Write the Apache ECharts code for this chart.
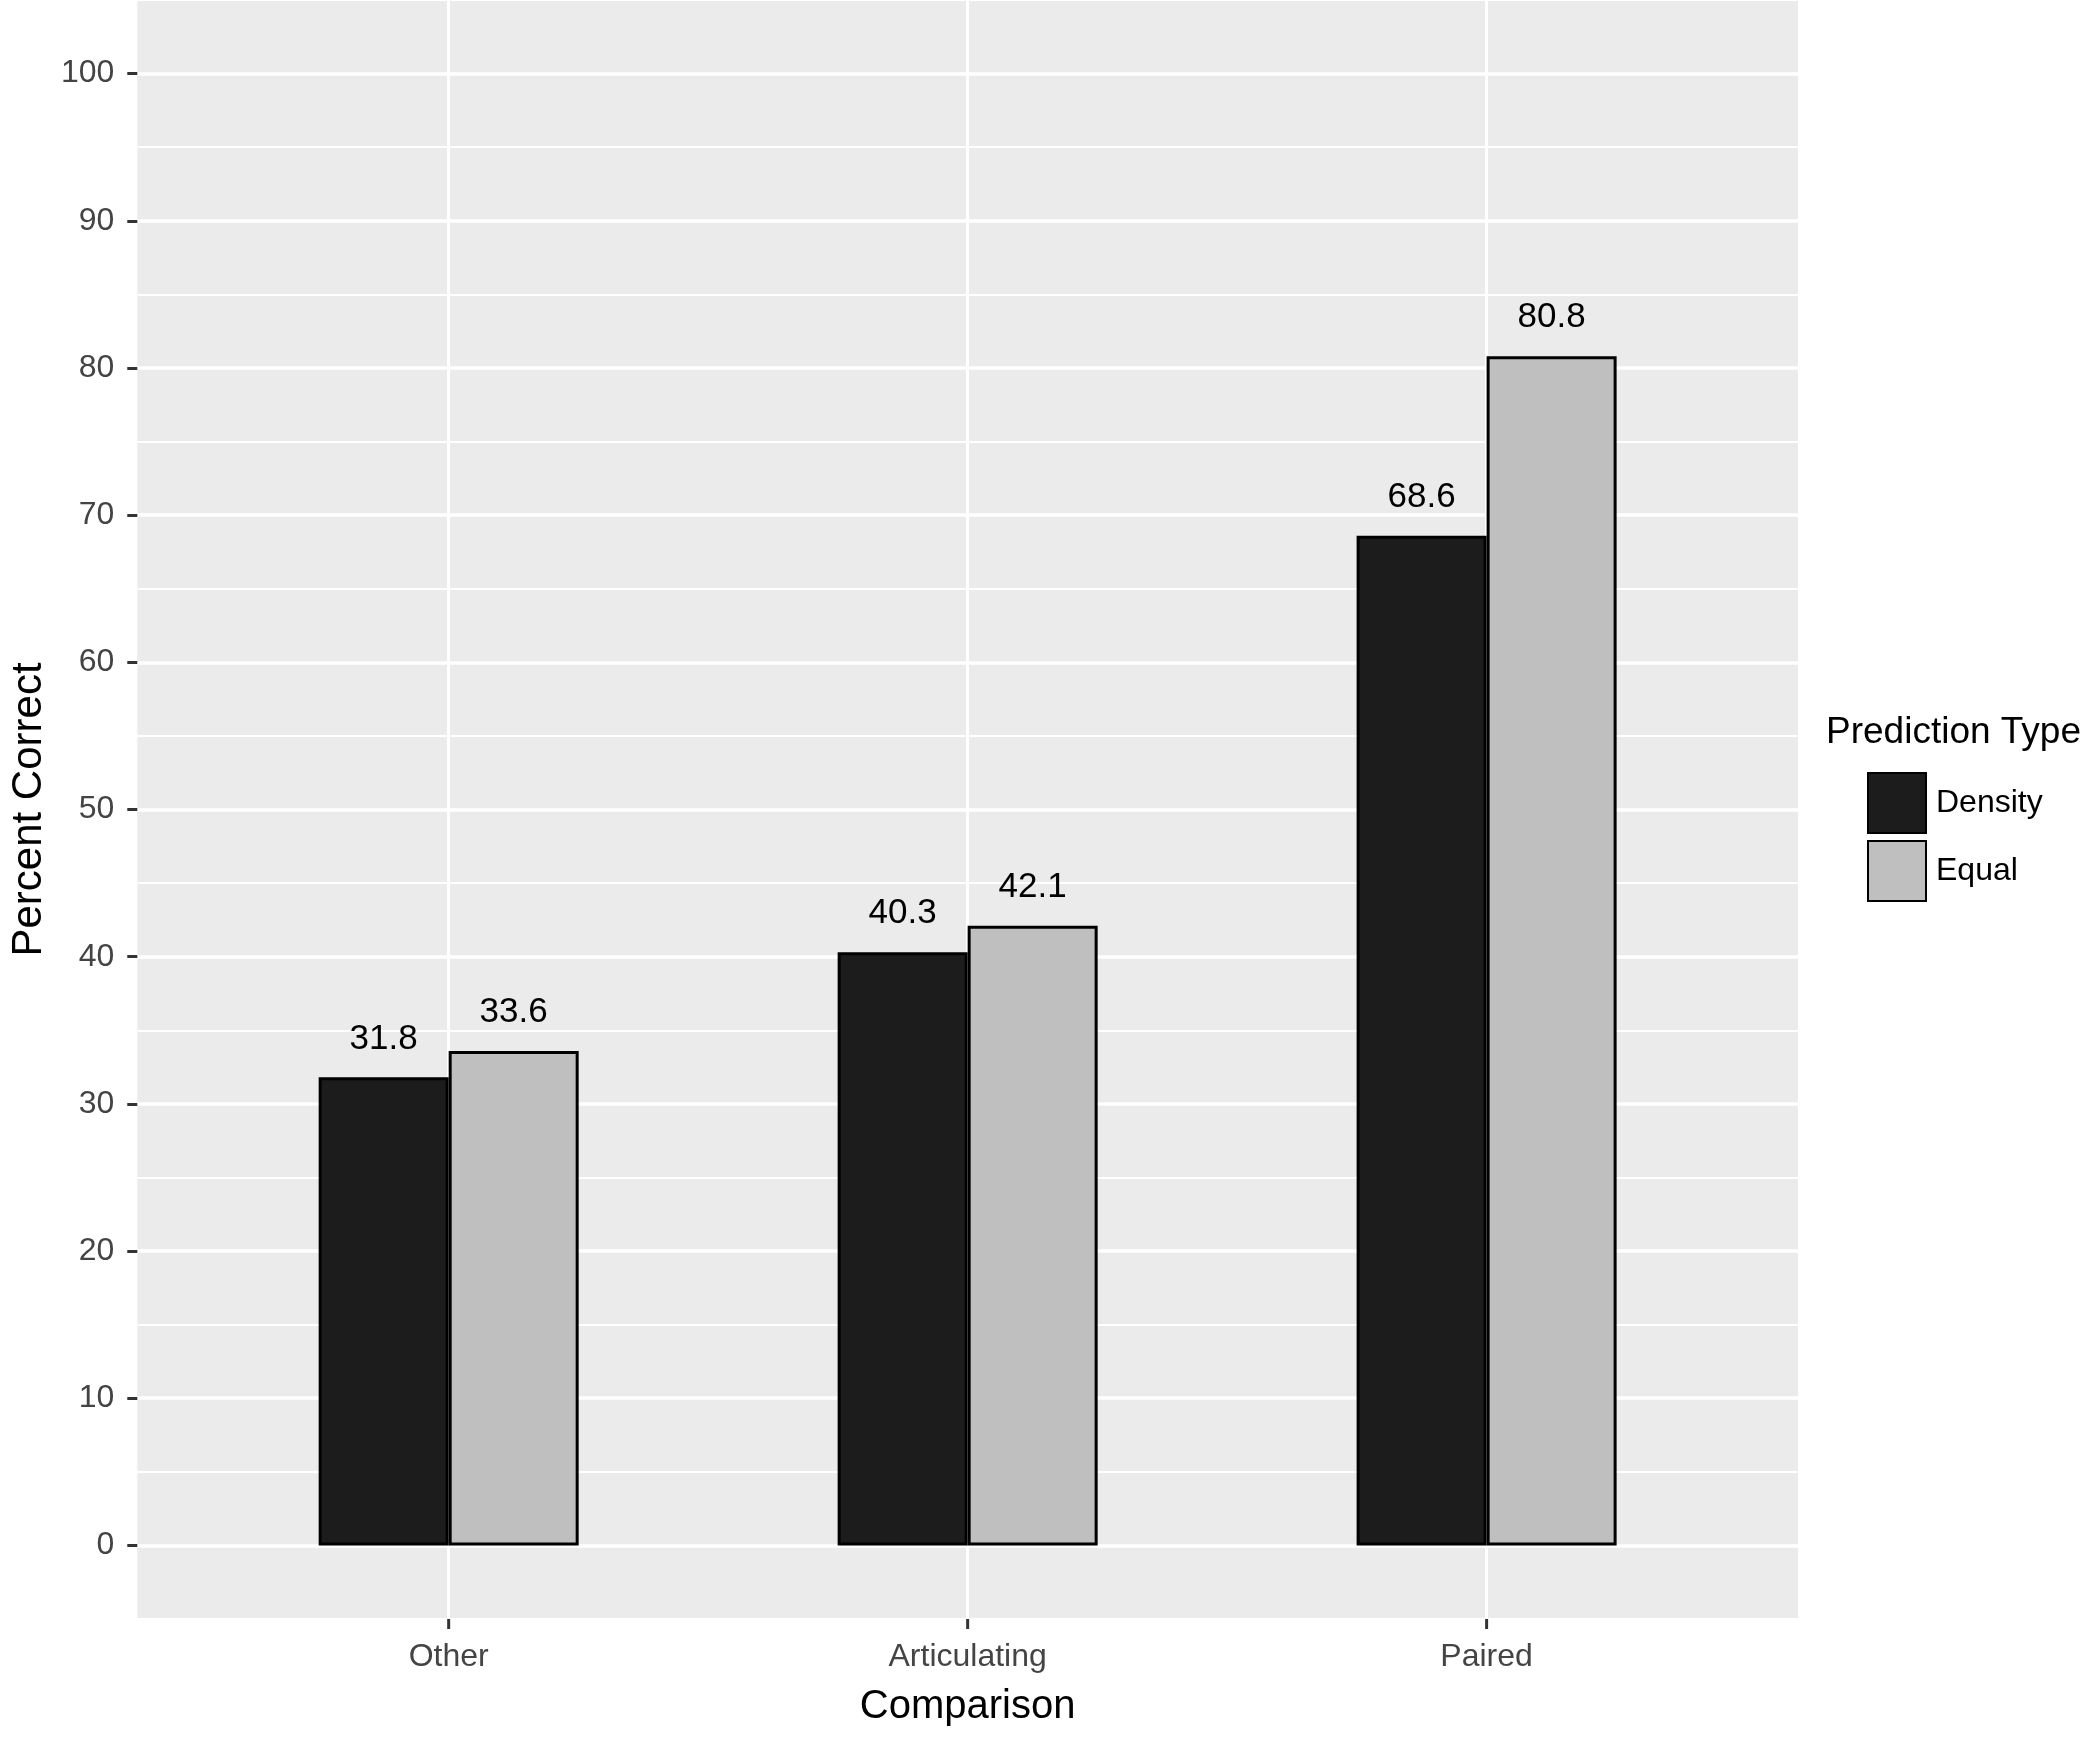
<!DOCTYPE html>
<html>
<head>
<meta charset="utf-8">
<script src="https://cdn.jsdelivr.net/npm/echarts@6/dist/echarts.min.js"></script>
<style>
html,body{margin:0;padding:0;background:#fff;}
#chart{width:2088px;height:1737px;}
</style>
</head>
<body>
<div id="chart"></div>
<script>
const categories = ['Other', 'Articulating', 'Paired'];
const seriesNames = ['Density', 'Equal'];
const densityValues = [31.8, 40.3, 68.6];
const equalValues = [33.6, 42.1, 80.8];
const yTickValues = [0, 10, 20, 30, 40, 50, 60, 70, 80, 90, 100];
const xTickValues = [1, 2, 3];

const FONT = 'Liberation Sans, Arial, sans-serif';
const chart = echarts.init(document.getElementById('chart'), null, {renderer: 'canvas'});

function toPoints(vals) {
  return categories.map((c, i) => [i + 1, vals[i]]);
}

const barLabel = {
  show: true,
  position: 'top',
  distance: 21,
  fontSize: 35,
  fontFamily: FONT,
  color: '#000',
  formatter: p => p.value[1].toFixed(1)
};

const option = {
  animation: false,
  backgroundColor: '#ffffff',
  textStyle: {fontFamily: FONT},
  title: {
    text: 'Prediction Type',
    left: 1826,
    top: 714,
    padding: 0,
    textStyle: {fontSize: 37, fontWeight: 'normal', color: '#000', fontFamily: FONT}
  },
  legend: {
    orient: 'vertical',
    left: 1867,
    top: 772,
    padding: 0,
    itemWidth: 58,
    itemHeight: 60,
    itemGap: 6,
    icon: 'rect',
    data: seriesNames,
    textStyle: {fontSize: 32, color: '#000', fontFamily: FONT, padding: [0, 0, 0, 5]}
  },
  grid: {
    left: 133,
    top: -2,
    width: 1665,
    height: 1621,
    show: true,
    backgroundColor: '#ebebeb',
    borderWidth: 0
  },
  xAxis: {
    type: 'value',
    min: 0.4,
    max: 3.6,
    position: 'bottom',
    name: 'Comparison',
    nameLocation: 'middle',
    nameGap: 68,
    nameTextStyle: {fontSize: 40, color: '#000', fontFamily: FONT},
    axisLine: {show: false, onZero: false},
    axisTick: {show: false, customValues: xTickValues},
    axisLabel: {
      customValues: xTickValues,
      margin: 22,
      fontSize: 32,
      color: '#444',
      fontFamily: FONT,
      formatter: v => categories[Math.round(v) - 1]
    },
    splitLine: {show: true, lineStyle: {color: '#ffffff', width: 3}}
  },
  yAxis: [
    {
      type: 'value',
      min: -5,
      max: 105,
      interval: 5,
      axisLine: {show: false, onZero: false},
      axisTick: {show: false},
      axisLabel: {show: false},
      splitLine: {show: true, lineStyle: {color: '#ffffff', width: 2}}
    },
    {
      type: 'value',
      min: -5,
      max: 105,
      position: 'left',
      name: 'Percent Correct',
      nameLocation: 'middle',
      nameGap: 85,
      nameTextStyle: {fontSize: 42, color: '#000', fontFamily: FONT},
      axisLine: {show: false, onZero: false},
      axisTick: {show: true, length: 10, customValues: yTickValues, lineStyle: {color: '#333', width: 3}},
      axisLabel: {customValues: yTickValues, margin: 23, fontSize: 32, color: '#444', fontFamily: FONT},
      splitLine: {show: true, lineStyle: {color: '#ffffff', width: 3.5}}
    }
  ],
  series: [
    {
      name: seriesNames[0],
      type: 'bar',
      yAxisIndex: 1,
      data: toPoints(densityValues),
      barWidth: 130,
      barGap: '0%',
      itemStyle: {color: '#1c1c1c', borderColor: '#000', borderWidth: 3},
      label: barLabel
    },
    {
      name: seriesNames[1],
      type: 'bar',
      yAxisIndex: 1,
      data: toPoints(equalValues),
      barWidth: 130,
      barGap: '0%',
      itemStyle: {color: '#bfbfbf', borderColor: '#000', borderWidth: 3},
      label: barLabel
    },
    {
      name: 'xTicks',
      type: 'custom',
      yAxisIndex: 1,
      clip: false,
      silent: true,
      data: xTickValues.map(v => [v, 0]),
      renderItem: function (params, api) {
        const x = api.coord([api.value(0), 0])[0];
        const yb = params.coordSys.y + params.coordSys.height;
        return {
          type: 'line',
          shape: {x1: x, y1: yb, x2: x, y2: yb + 10},
          style: {stroke: '#333', lineWidth: 3}
        };
      }
    }
  ]
};
chart.setOption(option);
</script>
</body>
</html>
